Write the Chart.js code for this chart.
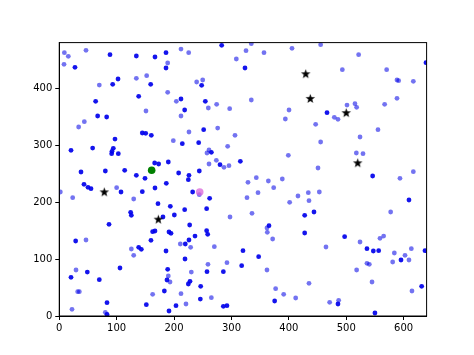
<!DOCTYPE html>
<html><head><meta charset="utf-8">
<script src="https://cdn.jsdelivr.net/npm/chart.js@4"></script>
<style>html,body{margin:0;padding:0;background:#fff}#c{display:block}</style>
</head><body>
<canvas id="c" width="474" height="355"></canvas>
<script>
const xTicks = [0, 100, 200, 300, 400, 500, 600];
const yTicks = [0, 100, 200, 300, 400];

const darkPoints = [
[88.4,458.8],[134.3,456.5],[166.8,454.7],[186,462.3],[283,475.2],[27.4,436.6],[186,435.4],[323.6,435.4],[102.4,416.1],[93.1,406.7],[159.3,406.7],[248.1,405],[63.4,376.9],[138.4,385.7],[212.1,381],[254.5,376.9],[218.5,361.7],
[638.9,444.8],[466.5,357],[546,245.8],
[66.9,351.1],[82.6,349.4],[144.7,321.3],[150.6,320.7],[160.4,317.2],[251.6,327.1],[97.1,310.7],[214.4,302.6],[242.9,304.3],[20.5,290.8],[58.2,294.9],[94.2,294.3],[91.9,289.1],[91.3,285],[102.9,285],[265,287.4],[315.5,271.5],[280.1,265.7],[166.2,268.6],[173.2,266.9],[190,270.4],[37.9,252.8],[80.3,254.6],[114,255.8],[134.3,247],[149.4,241.7],[208,251.1],[226,247],[224.9,239.4],[244,254.6],
[43.1,231.2],[50.1,225.9],[55.3,223.5],[107.6,217.7],[144.7,218.3],[166.8,224.7],[186.5,232.9],[232.4,217.7],[262,206.6],[172,197.2],[193.5,192.5],[218.5,186.7],[256.8,188.4],[124.4,182],[125.6,176.7],[180.7,173.8],[200.5,177.3],[86.7,160.9],[227.2,159.8],[162.7,148],[166.8,149.2],[191.2,147.5],[194.7,145.1],[256.8,149.8],[258.6,143.4],[236.5,140.4],[28.6,131.7],[159.8,132.9],[226,133.4],[219.6,126.4],[138.4,120.6],[143,117],[186,114.1],
[609.3,203.7],[427.6,176.7],[443.8,182.6],[365.4,158.6],[427.6,145.7],[497.2,139.3],[536.1,118.2],[547.2,114.1],[556.5,114.7],[637.2,114.7],[320.1,114.7],
[219.1,100.1],[48.9,77.2],[20.5,67.9],[69.8,63.8],[105.8,84.3],[188.9,81.9],[187.7,63.2],[257.4,77.8],[285.9,77.8],[317.8,88.4],[227.8,60.9],[224.9,56.2],[246.4,52.1],[183.1,43.9],[83.2,23.4],[151.7,19.9],[203.4,18.1],[245.8,29.8],[285.9,17],[292.2,18.1],[83.2,2.9],[191.2,8.8],
[347.4,104.2],[375.3,26.3],[485.6,21.1],[550,5.3],[595.4,98.3],[631.4,52.1]
];

const lightPoints = [
[8.9,462.3],[15.8,455.9],[46.6,466.4],[212.1,468.7],[225.5,462.3],[325.4,465.8],[308.5,451.2],[8.3,441.8],[188.9,444.2],[152.3,421.9],[134.3,417.3],[69.8,405.5],[239.4,410.8],[249.9,414.3],[188.9,392.7],[204,376.9],[274.2,371.6],[259.7,365.2],[296.9,364],[151.1,359.9],
[334.6,478.1],[356.7,462.3],[405.5,469.9],[455.4,476.3],[521.6,458.8],[493.2,432.5],[570.4,432.5],[588.4,414.3],[591.3,413.1],[616.9,412],[334.6,379.2],[501.3,370.4],[515.2,372.8],[518.1,366.3],[566.9,371.6],[588.4,382.2],[400.3,361.7],
[479.2,348.8],[485.6,345.3],[393.9,345.9],[446.7,336.5],[555.3,327.1],[524,314.3],[455.4,305.5],[399.1,282.1],[517.6,286.2],[529.2,285],[450.8,259.8],[616.9,253.4],[593.6,241.7],[343.3,242.9],[388.6,240.5],[364.3,237],
[43.7,341.2],[33.8,331.8],[212.1,351.1],[226,323],[276,330],[306.2,317.2],[198.7,307.8],[293.4,297.9],[260.9,291.4],[257.4,286.2],[273.7,273.3],[287,261],[295.7,263.9],[260.9,266.9],
[1.9,217.7],[23.4,207.7],[100,225.3],[129.7,205.4],[244,213],[297.5,173.8],[46.6,133.4],[210.9,126.4],[228.9,120.6],[270.2,121.7],[125.6,117.6],
[328.8,234.7],[373.6,225.3],[346.3,216.5],[327.1,207.7],[415.9,210.7],[433.9,216.5],[453.1,217.7],[401.4,199.6],[435.1,202.5],[335.8,180.3],[577.4,182.6],[361.9,154.5],[362.5,146.9],[371.8,135.2],[524,129.9],[558.8,136.4],[565.2,140.4],[464.7,121.1],[613.4,118.2],
[129.7,106.5],[29.2,80.8],[190,70.2],[193,59.7],[230.1,77.2],[259.1,90.7],[292.2,93.6],[212.1,39.2],[162.7,38.1],[32.1,42.7],[35,42.7],[220.8,21.1],[265,32.2],[22.2,11.7],[80.3,6.4],
[361.9,80.8],[377,48],[391,38.1],[411.9,31.6],[435.1,57.4],[471.1,24],[486.8,27.5],[518.1,80.8],[536.1,92.5],[540.2,90.7],[544.9,59.7],[583.8,110.6],[602.4,106.5],[609.3,98.3],[580.9,94.8],[614.5,43.9]
];

const starPoints = [[78.5,218],[172.6,170],[429.4,425.4],[437.4,382],[500,357],[520,269]];
const greenPoints = [[161,256]];
const pinkPoints = [[244.7,217.7]];

function toXY(a){ return a.map(p => ({x: p[0], y: p[1]})); }

function makeStar(){
  const c = document.createElement('canvas');
  c.width = 11; c.height = 11;
  const ctx = c.getContext('2d');
  ctx.fillStyle = '#000';
  ctx.beginPath();
  for (let i = 0; i < 10; i++) {
    const r = (i % 2) ? 2.0 : 5.0;
    const a = -Math.PI/2 + i*Math.PI/5;
    const px = 5.5 + r*Math.cos(a), py = 5.9 + r*Math.sin(a);
    if (i === 0) ctx.moveTo(px, py); else ctx.lineTo(px, py);
  }
  ctx.closePath();
  ctx.fill();
  return c;
}

const framePlugin = {
  id: 'frame',
  afterDraw(chart){
    const a = chart.chartArea, ctx = chart.ctx;
    ctx.save();
    ctx.strokeStyle = '#000';
    ctx.lineWidth = 1;
    ctx.strokeRect(a.left, a.top, a.right - a.left, a.bottom - a.top);
    ctx.restore();
  }
};

const tickFont = {family: 'DejaVu Sans', size: 10};

new Chart(document.getElementById('c'), {
  type: 'scatter',
  data: {
    datasets: [
      {data: toXY(pinkPoints), backgroundColor: 'rgba(218,100,218,0.75)', pointRadius: 3.8, borderWidth: 0, order: 0},
      {data: toXY(greenPoints), backgroundColor: 'rgb(0,128,0)', pointRadius: 3.8, borderWidth: 0, order: 1},
      {data: toXY(starPoints), pointStyle: makeStar(), pointRadius: 5, order: 2},
      {data: toXY(darkPoints), backgroundColor: 'rgba(0,0,235,0.92)', pointRadius: 2.4, borderWidth: 0, order: 3},
      {data: toXY(lightPoints), backgroundColor: 'rgba(0,0,230,0.55)', pointRadius: 2.4, borderWidth: 0, order: 4}
    ]
  },
  options: {
    responsive: false,
    animation: false,
    devicePixelRatio: 1,
    layout: {padding: {top: 42.6, right: 47.4, left: 0, bottom: 0}},
    plugins: {legend: {display: false}, tooltip: {enabled: false}},
    scales: {
      x: {
        type: 'linear', min: 0, max: 640,
        afterBuildTicks: s => { s.ticks = xTicks.map(v => ({value: v})); },
        afterFit: s => { s.height = 39; },
        grid: {display: true, drawOnChartArea: false, drawTicks: true, tickLength: 4, color: '#000', lineWidth: 1},
        border: {display: true, color: '#000', width: 1},
        ticks: {color: '#000', font: tickFont, padding: 2, maxRotation: 0, autoSkip: false}
      },
      y: {
        type: 'linear', min: 0, max: 480,
        afterBuildTicks: s => { s.ticks = yTicks.map(v => ({value: v})); },
        afterFit: s => { s.width = 59.25; },
        grid: {display: true, drawOnChartArea: false, drawTicks: true, tickLength: 4, color: '#000', lineWidth: 1},
        border: {display: true, color: '#000', width: 1},
        ticks: {color: '#000', font: tickFont, padding: 3, autoSkip: false}
      }
    }
  },
  plugins: [framePlugin]
});
</script>
</body></html>
